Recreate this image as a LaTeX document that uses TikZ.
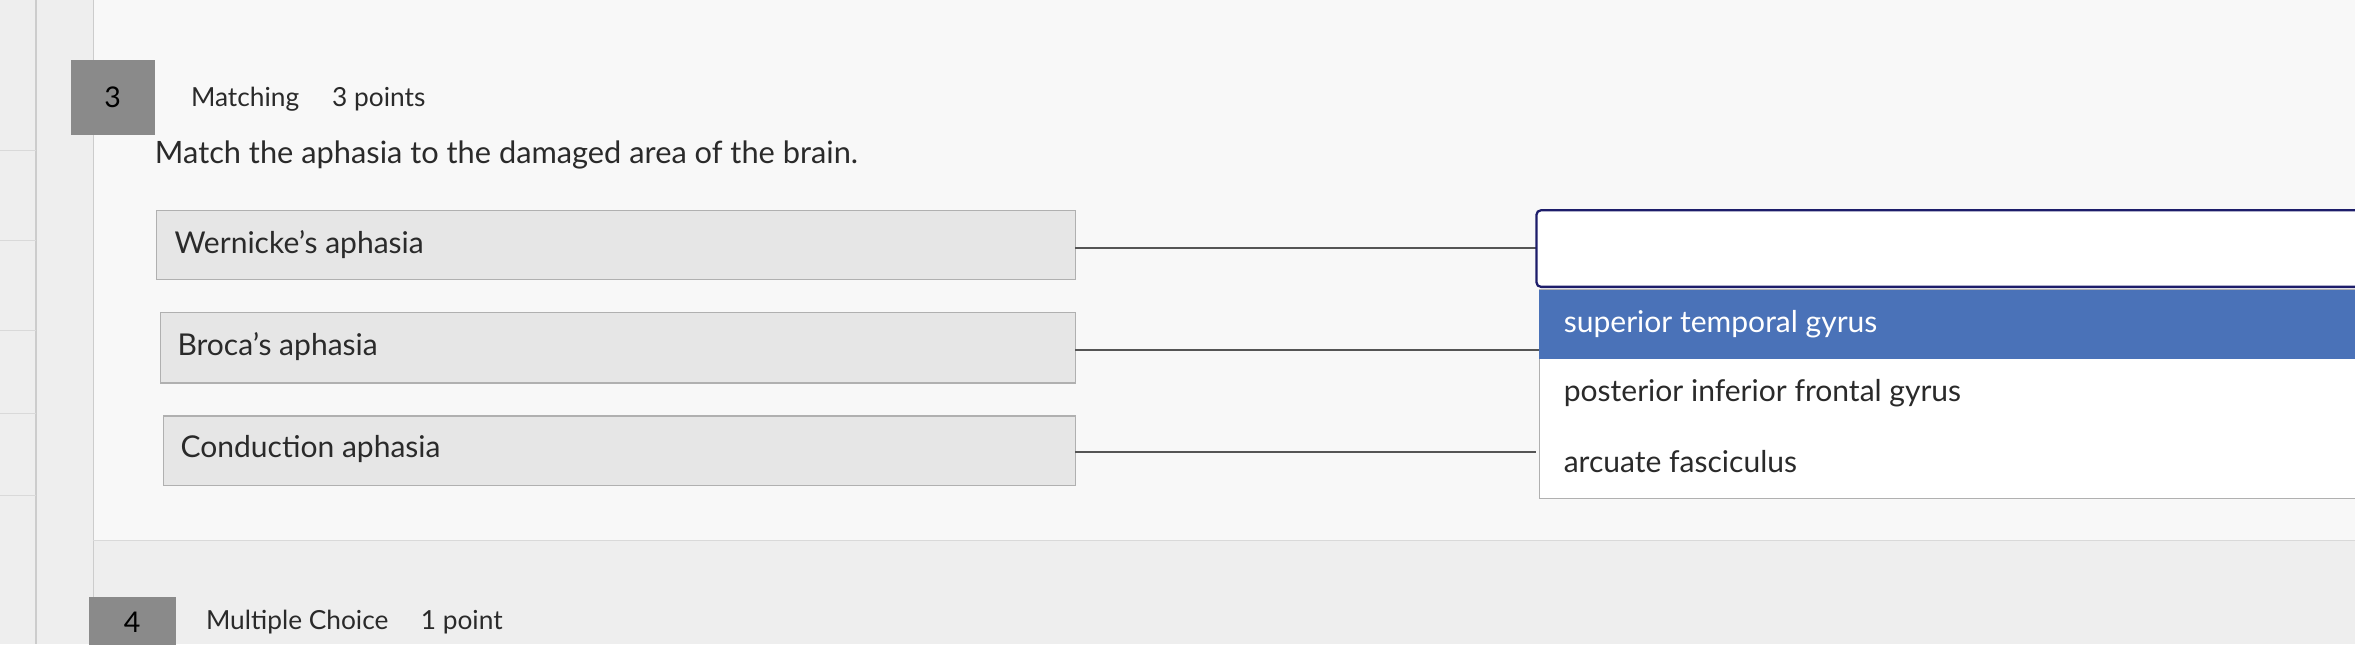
\documentclass[tikz,border=0pt]{standalone}
\usepackage{fontspec}
\setmainfont{Lato}
\definecolor{bg}{HTML}{EEEEEE}
\definecolor{boxf}{HTML}{E6E6E6}
\definecolor{boxd}{HTML}{B0B0B0}
\definecolor{sel}{HTML}{4A72B8}
\definecolor{txt}{HTML}{2A2A2A}
\definecolor{num}{HTML}{8A8A8A}
\begin{document}
\begin{tikzpicture}[x=1pt,y=-1pt,
  lbox/.style={draw=boxd,fill=boxf,line width=0.8pt},
  conn/.style={draw=txt!80,line width=1.2pt},
  t/.style={anchor=west,text=txt,font=\fontsize{20}{24}\selectfont,inner sep=0pt},
  st/.style={anchor=west,text=txt,font=\fontsize{17.5}{20}\selectfont,inner sep=0pt}]
\useasboundingbox (0,0) rectangle (1568,429);
\fill[bg] (0,0) rectangle (1568,429);
\fill[white!60!bg] (62,0) rectangle (1568,360);
\draw[gray!40,line width=0.8pt] (24,0) -- (24,429) (62,0) -- (62,429);
\foreach \yy in {100,160,220,275,330} \draw[gray!30] (0,\yy) -- (24,\yy);
\draw[gray!30] (62,360) -- (1568,360);
% question 3 header
\node[fill=num,minimum width=56pt,minimum height=50pt,inner sep=0pt,text=black,font=\fontsize{19}{20}\selectfont] (n3) at (75,65) {3};
\node[st] (m1) at (127,66) {Matching};
\node[st] (m2) at (221,66) {3 points};
\node[t,font=\fontsize{20.5}{24}\selectfont] (q) at (103,103) {Match the aphasia to the damaged area of the brain.};
% left boxes
\draw[lbox] (104,140) rectangle (716,186);
\node[t] (a1) at (116,163) {Wernicke{\char"27}s aphasia};
\draw[lbox] (107,208) rectangle (716,255);
\node[t] (a2) at (118,231) {Broca{\char"27}s aphasia};
\draw[lbox] (109,277) rectangle (716,323);
\node[t] (a3) at (120,299) {Conduction aphasia};
\coordinate (l1) at (716,165); \coordinate (r1) at (1023,165);
\coordinate (l2) at (716,233); \coordinate (r2) at (1025,233);
\coordinate (l3) at (716,301); \coordinate (r3) at (1023,301);
\draw[conn] (l1) -- (r1); \draw[conn] (l2) -- (r2); \draw[conn] (l3) -- (r3);
% dropdown
\draw[fill=white,draw=txt!70!blue,line width=1.5pt,rounded corners=3pt] (1023,140) rectangle (1575,191);
\draw[fill=white,draw=boxd,line width=0.8pt] (1025,193) rectangle (1575,332);
\fill[sel] (1025,193) rectangle (1575,239);
\node[t,text=white] (o1) at (1041,216) {superior temporal gyrus};
\node[t] (o2) at (1041,262) {posterior inferior frontal gyrus};
\node[t] (o3) at (1041,307) {arcuate fasciculus};
% question 4
\node[fill=num,minimum width=58pt,minimum height=34pt,inner sep=0pt,text=black,font=\fontsize{19}{20}\selectfont,anchor=north] (n4) at (88,397) {4};
\node[st] (m3) at (137,414) {Multiple Choice};
\node[st] (m4) at (280,414) {1 point};
\end{tikzpicture}
\end{document}
